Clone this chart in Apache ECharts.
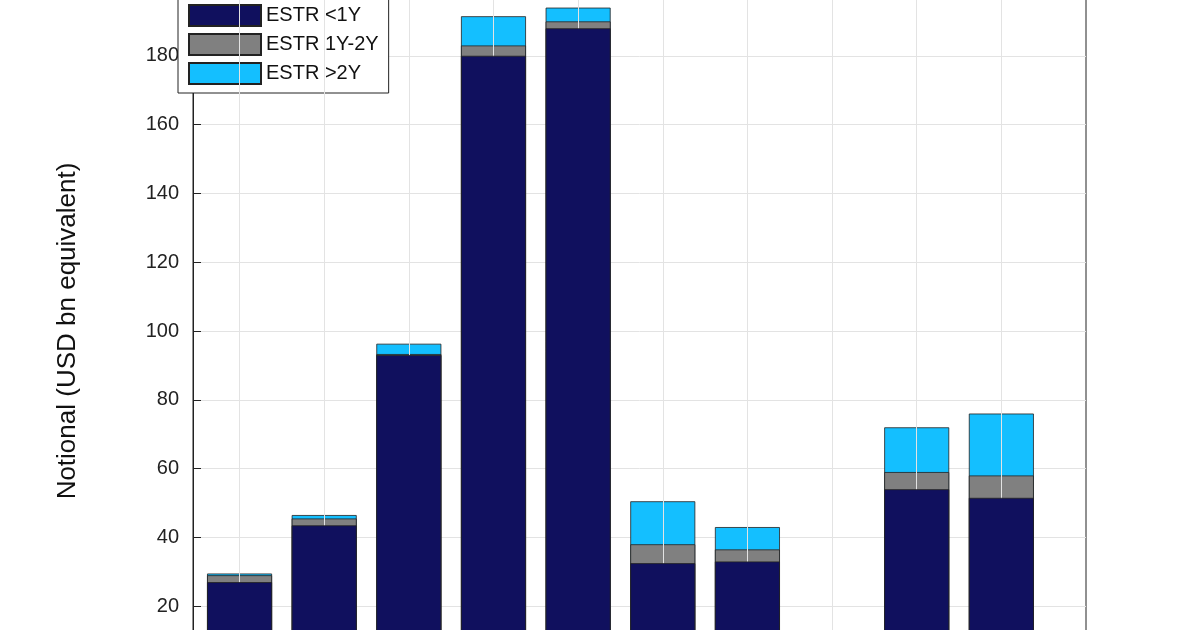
<!DOCTYPE html>
<html>
<head>
<meta charset="utf-8">
<script src="https://cdn.jsdelivr.net/npm/echarts@6/dist/echarts.min.js"></script>
<style>
html,body{margin:0;padding:0;background:#fff;overflow:hidden;width:1200px;height:630px}
#chart{position:absolute;left:0;top:-23px;width:1200px;height:708px}
</style>
</head>
<body>
<div id="chart"></div>
<script>
// bar positions (x = 1..10, slot 8 is empty)
var positions = [1, 2, 3, 4, 5, 6, 7, 9, 10];
var gridLines = [1, 2, 3, 4, 5, 6, 7, 8, 9, 10];
var estrShort = [27, 43.5, 93, 180, 188, 32.5, 33, 54, 51.5];
var estrMid = [2, 2, 0.3, 3, 2, 5.5, 3.5, 5, 6.5];
var estrLong = [0.5, 1, 3, 8.5, 4, 12.5, 6.5, 13, 18];
var seriesNames = ['ESTR <1Y', 'ESTR 1Y-2Y', 'ESTR >2Y'];
var seriesColors = ['#10105e', '#808080', '#14bfff'];

// cumulative tops so the segments stack (drawn overlapping, front to back)
var tops = [estrShort.slice(), [], []];
for (var i = 0; i < positions.length; i++) {
    tops[1][i] = estrShort[i] + estrMid[i];
    tops[2][i] = tops[1][i] + estrLong[i];
}

function pairs(vals) {
    return vals.map(function (v, i) { return [positions[i], v]; });
}

var series = [2, 1, 0].map(function (k) {
    return {
        name: seriesNames[k],
        type: 'bar',
        barWidth: 65,
        barGap: '-100%',
        z: 3 + (2 - k),
        data: pairs(tops[k]),
        itemStyle: { color: seriesColors[k], borderColor: '#222', borderWidth: 0.8 }
    };
});
// vertical grid lines at the bar slots
series[0].markLine = {
    silent: true,
    symbol: 'none',
    label: { show: false },
    lineStyle: { color: '#e3e3e3', type: 'solid', width: 1 },
    data: gridLines.map(function (x) { return { xAxis: x }; })
};

var option = {
    animation: false,
    textStyle: { fontFamily: 'Liberation Sans' },
    grid: {
        left: 193, right: 114, top: 0, bottom: 0,
        show: true, borderColor: '#222', borderWidth: 1
    },
    legend: {
        orient: 'vertical',
        left: 178, top: 17,
        itemWidth: 72, itemHeight: 21, itemGap: 6,
        padding: [10, 10, 8, 10],
        icon: 'rect',
        backgroundColor: '#fff',
        borderColor: '#222', borderWidth: 1,
        textStyle: { fontSize: 20, color: '#111' },
        data: seriesNames
    },
    xAxis: {
        type: 'value', min: 0.45, max: 11,
        axisLabel: { show: false }, axisTick: { show: false },
        splitLine: { show: false }, axisLine: { show: false }
    },
    yAxis: {
        type: 'value', min: 0, max: 200, interval: 20,
        name: 'Notional (USD bn equivalent)',
        nameLocation: 'middle', nameGap: 112,
        nameTextStyle: { fontSize: 26, color: '#111' },
        axisLabel: { fontSize: 20, color: '#222', margin: 14 },
        axisTick: { inside: true, length: 8, lineStyle: { color: '#222' } },
        axisLine: { show: true, lineStyle: { color: '#222' } },
        splitLine: { lineStyle: { color: '#e3e3e3' } }
    },
    series: series
};

var chart = echarts.init(document.getElementById('chart'));
chart.setOption(option);
</script>
</body>
</html>
